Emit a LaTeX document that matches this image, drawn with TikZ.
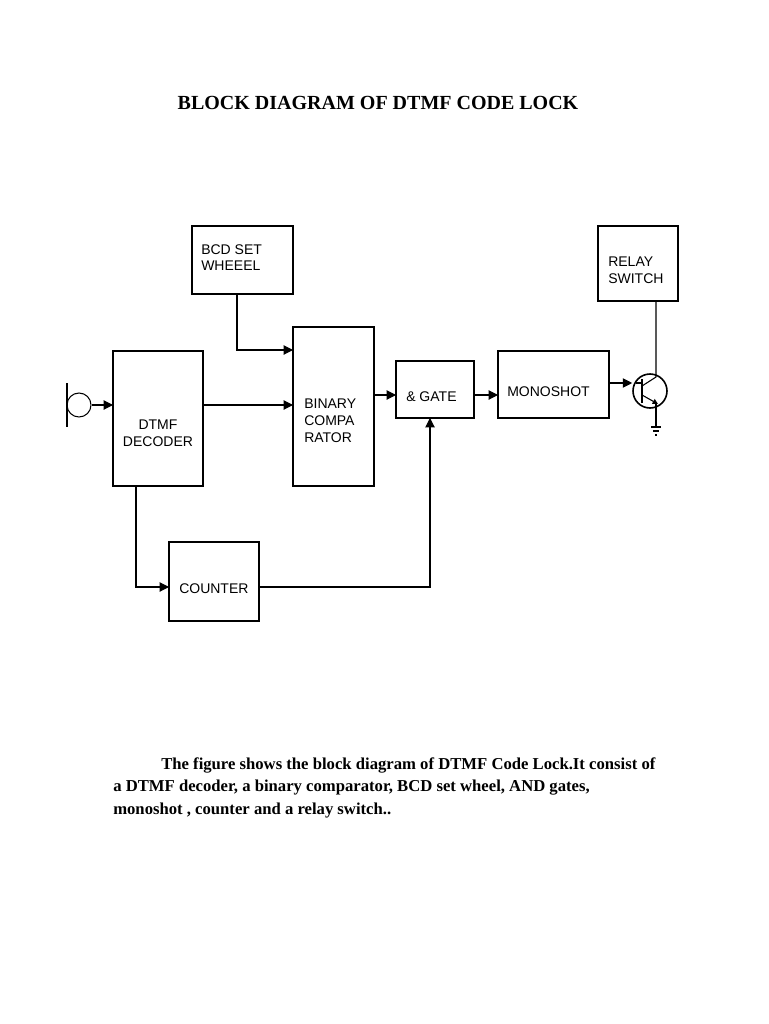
\documentclass[tikz,border=0pt]{standalone}
\usepackage{fontspec}
\setmainfont{Liberation Serif}
\newfontfamily\arial{Liberation Sans}
\usetikzlibrary{arrows.meta}
\begin{document}
\begin{tikzpicture}[x=0.75pt,y=-0.75pt,
 box/.style={draw,line width=0.8pt,inner sep=0pt},
 lbl/.style={font=\arial\fontsize{10.5}{12.5}\selectfont,align=left,anchor=north west,inner sep=0pt},
 arr/.style={line width=0.8pt,-{Triangle[length=7pt,width=7pt]}},
 ln/.style={line width=0.8pt}]
\useasboundingbox (0,0) rectangle (768,1024);
\node[font=\bfseries\fontsize{15}{17}\selectfont] (title) at (378,103) {BLOCK DIAGRAM OF DTMF CODE LOCK};
\draw[ln] (192,226) rectangle (293,294); \coordinate (bcd) at (237,294);
\node[lbl] (bcdt) at (201,244) {BCD SET\\WHEEEL};
\draw[ln] (293,327) rectangle (374,486);
\node[lbl] (bct) at (304,399) {BINARY\\COMPA\\RATOR};
\draw[ln] (113,351) rectangle (203,486);
\node[lbl,align=center,anchor=north] (dt) at (158,420) {DTMF\\DECODER};
\draw[ln] (396,361) rectangle (474,418);
\node[lbl] (gt) at (406,391) {\& GATE};
\draw[ln] (498,351) rectangle (609,418);
\node[lbl] (mt) at (507,386) {MONOSHOT};
\draw[ln] (598,226) rectangle (678,301);
\node[lbl] (rt) at (608,257) {RELAY\\SWITCH};
\draw[ln] (169,542) rectangle (259,621);
\node[lbl] (ct) at (179,583) {COUNTER};
% mic
\draw[ln] (67,383) -- (67,427);
\node[draw,circle,line width=0.8pt,minimum size=24*0.75pt,inner sep=0pt] (mic) at (79,405) {};
\draw[arr] (mic.east) -- (113,405);
\draw[arr] (203,405) -- (293,405);
\draw[arr] (bcd) -- (237,350) -- (293,350);
\draw[arr] (374,395) -- (396,395);
\draw[arr] (474,395) -- (498,395);
\draw[arr] (136,486) -- (136,587) -- (169,587);
\draw[arr] (259,587) -- (430,587) -- (430,418);
% transistor
\node[draw,circle,line width=1.2pt,minimum size=34*0.75pt,inner sep=0pt] (q) at (650,391) {};
\draw[arr] (609,383) -- (q.west|-0,383);
\draw[ln] (642,379) -- (642,403);
\draw[ln] (636,383) -- (642,383);
\draw[ln] (642,386) -- (656,377) -- (656,301);
\draw[line width=0.8pt,-{Triangle[length=4pt,width=4pt]}] (642,395) -- (658,404);
\draw[ln] (656,403) -- (656,427);
\draw[ln] (651,427) -- (661,427) (653,431) -- (659,431) (655,435) -- (657,435);
\node[font=\bfseries\fontsize{12.5}{17}\selectfont,align=left,anchor=north west,inner sep=0pt] (body) at (113,757)
{\hspace*{36pt}The figure shows the block diagram of DTMF Code Lock.It consist of\\a DTMF decoder, a binary comparator, BCD set wheel, AND gates,\\monoshot , counter and a relay switch..};
\end{tikzpicture}
\end{document}
